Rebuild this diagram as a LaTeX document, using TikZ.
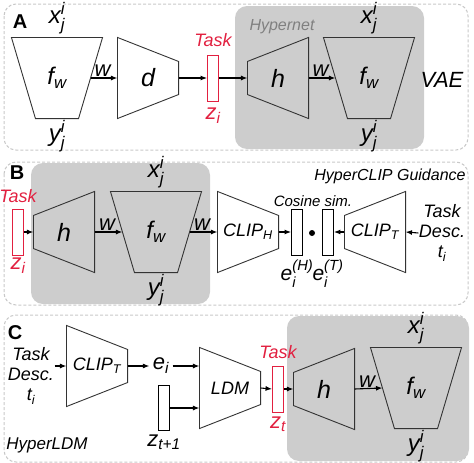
\documentclass[tikz,border=0pt]{standalone}
\usepackage{fontspec}
\setmainfont{Liberation Sans}
\usepackage{amsmath}
\usetikzlibrary{positioning,calc,arrows.meta}

\definecolor{taskred}{RGB}{226,32,64}
\definecolor{hypergray}{RGB}{205,205,205}
\definecolor{boxgray}{RGB}{200,200,200}

% trapezi: verticale (largo in alto), largo a sinistra, largo a destra
\newcommand{\trapv}[1]{\draw[trap] ($(#1.north west)+(-12,0)$) -- ($(#1.north east)+(12,0)$) -- ($(#1.south east)+(-12,0)$) -- ($(#1.south west)+(12,0)$) -- cycle;}
\newcommand{\trapsx}[1]{\draw[trap] ($(#1.north west)+(0,-12)$) -- ($(#1.north east)+(0,12)$) -- ($(#1.south east)+(0,-12)$) -- ($(#1.south west)+(0,12)$) -- cycle;}
\newcommand{\trapdx}[1]{\draw[trap] ($(#1.north west)+(0,12)$) -- ($(#1.north east)+(0,-12)$) -- ($(#1.south east)+(0,12)$) -- ($(#1.south west)+(0,-12)$) -- cycle;}

\begin{document}
\begin{tikzpicture}[x=1pt, y=-1pt, line width=1.1pt, >={Latex[length=6.5pt,width=5pt]},
    trapV/.style = {minimum width=66pt, minimum height=80pt, inner sep=0pt, font=\fontsize{24}{26}\selectfont\itshape},
    trapH/.style = {minimum width=60pt, minimum height=56pt, inner sep=0pt, font=\fontsize{25}{27}\selectfont\itshape},
    enc/.style = {trapH, font=\fontsize{18}{20}\selectfont\itshape},
    vec/.style = {draw, line width=0.9pt, minimum width=11pt, minimum height=46pt, inner sep=0pt},
    task/.style = {vec, draw=taskred},
    io/.style = {inner sep=0pt, font=\fontsize{24}{26}\selectfont\itshape},
    tasklbl/.style = {inner sep=0pt, text=taskred, font=\fontsize{18}{20}\selectfont\itshape},
    zlbl/.style = {inner sep=0pt, text=taskred, font=\fontsize{22}{24}\selectfont\itshape},
    note/.style = {inner sep=0pt, font=\fontsize{16}{18}\selectfont\itshape},
    desc/.style = {inner sep=0pt, align=center, font=\fontsize{18}{20}\selectfont\itshape},
    lett/.style = {inner sep=0pt, font=\fontsize{20}{22}\selectfont\bfseries},
    wlbl/.style = {above, pos=0.45, inner sep=1pt, font=\fontsize{22}{24}\selectfont\itshape},
    trap/.style = {draw=black!80, line width=0.9pt},
    panel/.style = {draw=boxgray, dash pattern=on 3pt off 2pt, line width=1pt, rounded corners=12pt},
    hyper/.style = {fill=hypergray, rounded corners=12pt}]
    \useasboundingbox (0,0) rectangle (474,463);

    % Riquadri dei tre pannelli
    \draw[panel] (4,4) rectangle (468,150);
    \draw[panel] (4,162) rectangle (468,305);
    \draw[panel] (4,315) rectangle (468,462);
    \path[hyper] (235,6) rectangle (424,149);
    \path[hyper] (31,163) rectangle (210,304);
    \path[hyper] (287,316) rectangle (469,461);

    % Pannello A
    \node[lett] (labA) at (20,22) {A};
    \node[trapV] (fwA) at (57,78) {f$_{\text{w}}$};
    \node[trapH] (dA) at (148,78) {d};
    \node[task] (taskA) at (213,78) {};
    \node[trapH] (hA) at (278,78) {h};
    \node[trapV] (fwA2) at (369,78) {f$_{\text{w}}$};
    \node[io, above=3pt of fwA] (xA) {x$^{\text{i}}_{\text{j}}$};
    \node[io, below=1pt of fwA] (yA) {y$^{\text{i}}_{\text{j}}$};
    \node[tasklbl, above=7pt of taskA] (tA) {Task};
    \node[zlbl, below=6pt of taskA] (zA) {z$_{\text{i}}$};
    \node[io, above=3pt of fwA2] (xA2) {x$^{\text{i}}_{\text{j}}$};
    \node[io, below=1pt of fwA2] (yA2) {y$^{\text{i}}_{\text{j}}$};
    \node[note, text=black!50] (hypA) at (282,27) {Hypernet};
    \node[io, font=\fontsize{22}{24}\selectfont\itshape] (vae) at (442,80) {VAE};
    \trapv{fwA} \trapsx{dA} \trapdx{hA} \trapv{fwA2}

    \draw[->] (fwA.east) -- (dA.west) node[wlbl] {w};
    \draw[->] (dA.east) -- (taskA.west);
    \draw[->] (taskA.east) -- (hA.west);
    \draw[->] (hA.east) -- (fwA2.west) node[wlbl] {w};

    % Pannello B
    \node[lett] (labB) at (17,173) {B};
    \node[task] (taskB) at (18,232) {};
    \node[trapH] (hB) at (64,232) {h};
    \node[trapV] (fwB) at (156,232) {f$_{\text{w}}$};
    \node[enc] (clipH) at (248,232) {CLIP$_{\text{H}}$};
    \node[vec] (eH) at (297,232) {};
    \node[circle, fill, inner sep=0pt, minimum size=6pt] (dot) at (312,233) {};
    \node[vec] (eT) at (328,232) {};
    \node[enc] (clipT) at (375,232) {CLIP$_{\text{T}}$};
    \node[desc] (descB) at (442,233) {Task\\Desc.\\t$_{\text{i}}$};
    \node[tasklbl, above=5pt of taskB] (tB) {Task};
    \node[zlbl, below=2pt of taskB] (zB) {z$_{\text{i}}$};
    \node[io, above=3pt of fwB] (xB) {x$^{\text{i}}_{\text{j}}$};
    \node[io, below=1pt of fwB] (yB) {y$^{\text{i}}_{\text{j}}$};
    \node[io, font=\fontsize{21}{23}\selectfont\itshape, below=4pt of eH] (eHl) {e$^{\text{(H)}}_{\text{i}}$};
    \node[io, font=\fontsize{21}{23}\selectfont\itshape, below=4pt of eT] (eTl) {e$^{\text{(T)}}_{\text{i}}$};
    \node[note, font=\fontsize{15}{17}\selectfont\itshape] (cos) at (313,201) {Cosine sim.};
    \node[note] (guid) at (390,176) {HyperCLIP Guidance};
    \trapdx{hB} \trapv{fwB} \trapsx{clipH} \trapdx{clipT}

    \draw[->] (taskB.east) -- (hB.west);
    \draw[->] (hB.east) -- (fwB.west) node[wlbl] {w};
    \draw[->] (fwB.east) -- (clipH.west) node[wlbl] {w};
    \draw[->] (clipH.east) -- (eH.west);
    \draw[->] (clipT.west) -- (eT.east);
    \draw[->] (descB.west) -- (clipT.east);

    % Pannello C
    \node[lett] (labC) at (15,333) {C};
    \node[desc] (descC) at (31,376) {Task\\Desc.\\t$_{\text{i}}$};
    \node[enc] (clipTC) at (97,366) {CLIP$_{\text{T}}$};
    \node[io, inner sep=3pt, font=\fontsize{22}{24}\selectfont\itshape] (eiC) at (161,366) {e$_{\text{i}}$};
    \node[vec, minimum height=45pt] (zC) at (164,408) {};
    \node[enc] (ldm) at (230,388) {LDM};
    \node[task] (taskC) at (278,389) {};
    \node[trapH] (hC) at (324,389) {h};
    \node[trapV] (fwC) at (416,388) {f$_{\text{w}}$};
    \node[io, font=\fontsize{22}{24}\selectfont\itshape, below=3pt of zC] (zt1) {z$_{\text{t+1}}$};
    \node[tasklbl, above=6pt of taskC] (tC) {Task};
    \node[zlbl, below=4pt of taskC] (ztC) {z$_{\text{t}}$};
    \node[io, above=3pt of fwC] (xC) {x$^{\text{i}}_{\text{j}}$};
    \node[io, below=1pt of fwC] (yC) {y$^{\text{i}}_{\text{j}}$};
    \node[note, font=\fontsize{17}{19}\selectfont\itshape] (hypLDM) at (47,445) {HyperLDM};
    \trapsx{clipTC} \trapsx{ldm} \trapdx{hC} \trapv{fwC}

    \draw[->] (descC.east |- clipTC.west) -- (clipTC.west);
    \draw[->] (clipTC.east) -- (eiC.west);
    \draw[->] (eiC.east) -- (eiC.east -| ldm.west);
    \draw[->] (zC.east) -- (zC.east -| ldm.west);
    \draw[->] (ldm.east) -- (taskC.west);
    \draw[->] (taskC.east) -- (hC.west);
    \draw[->] (hC.east) -- (fwC.west) node[wlbl] {w};

\end{tikzpicture}
\end{document}
